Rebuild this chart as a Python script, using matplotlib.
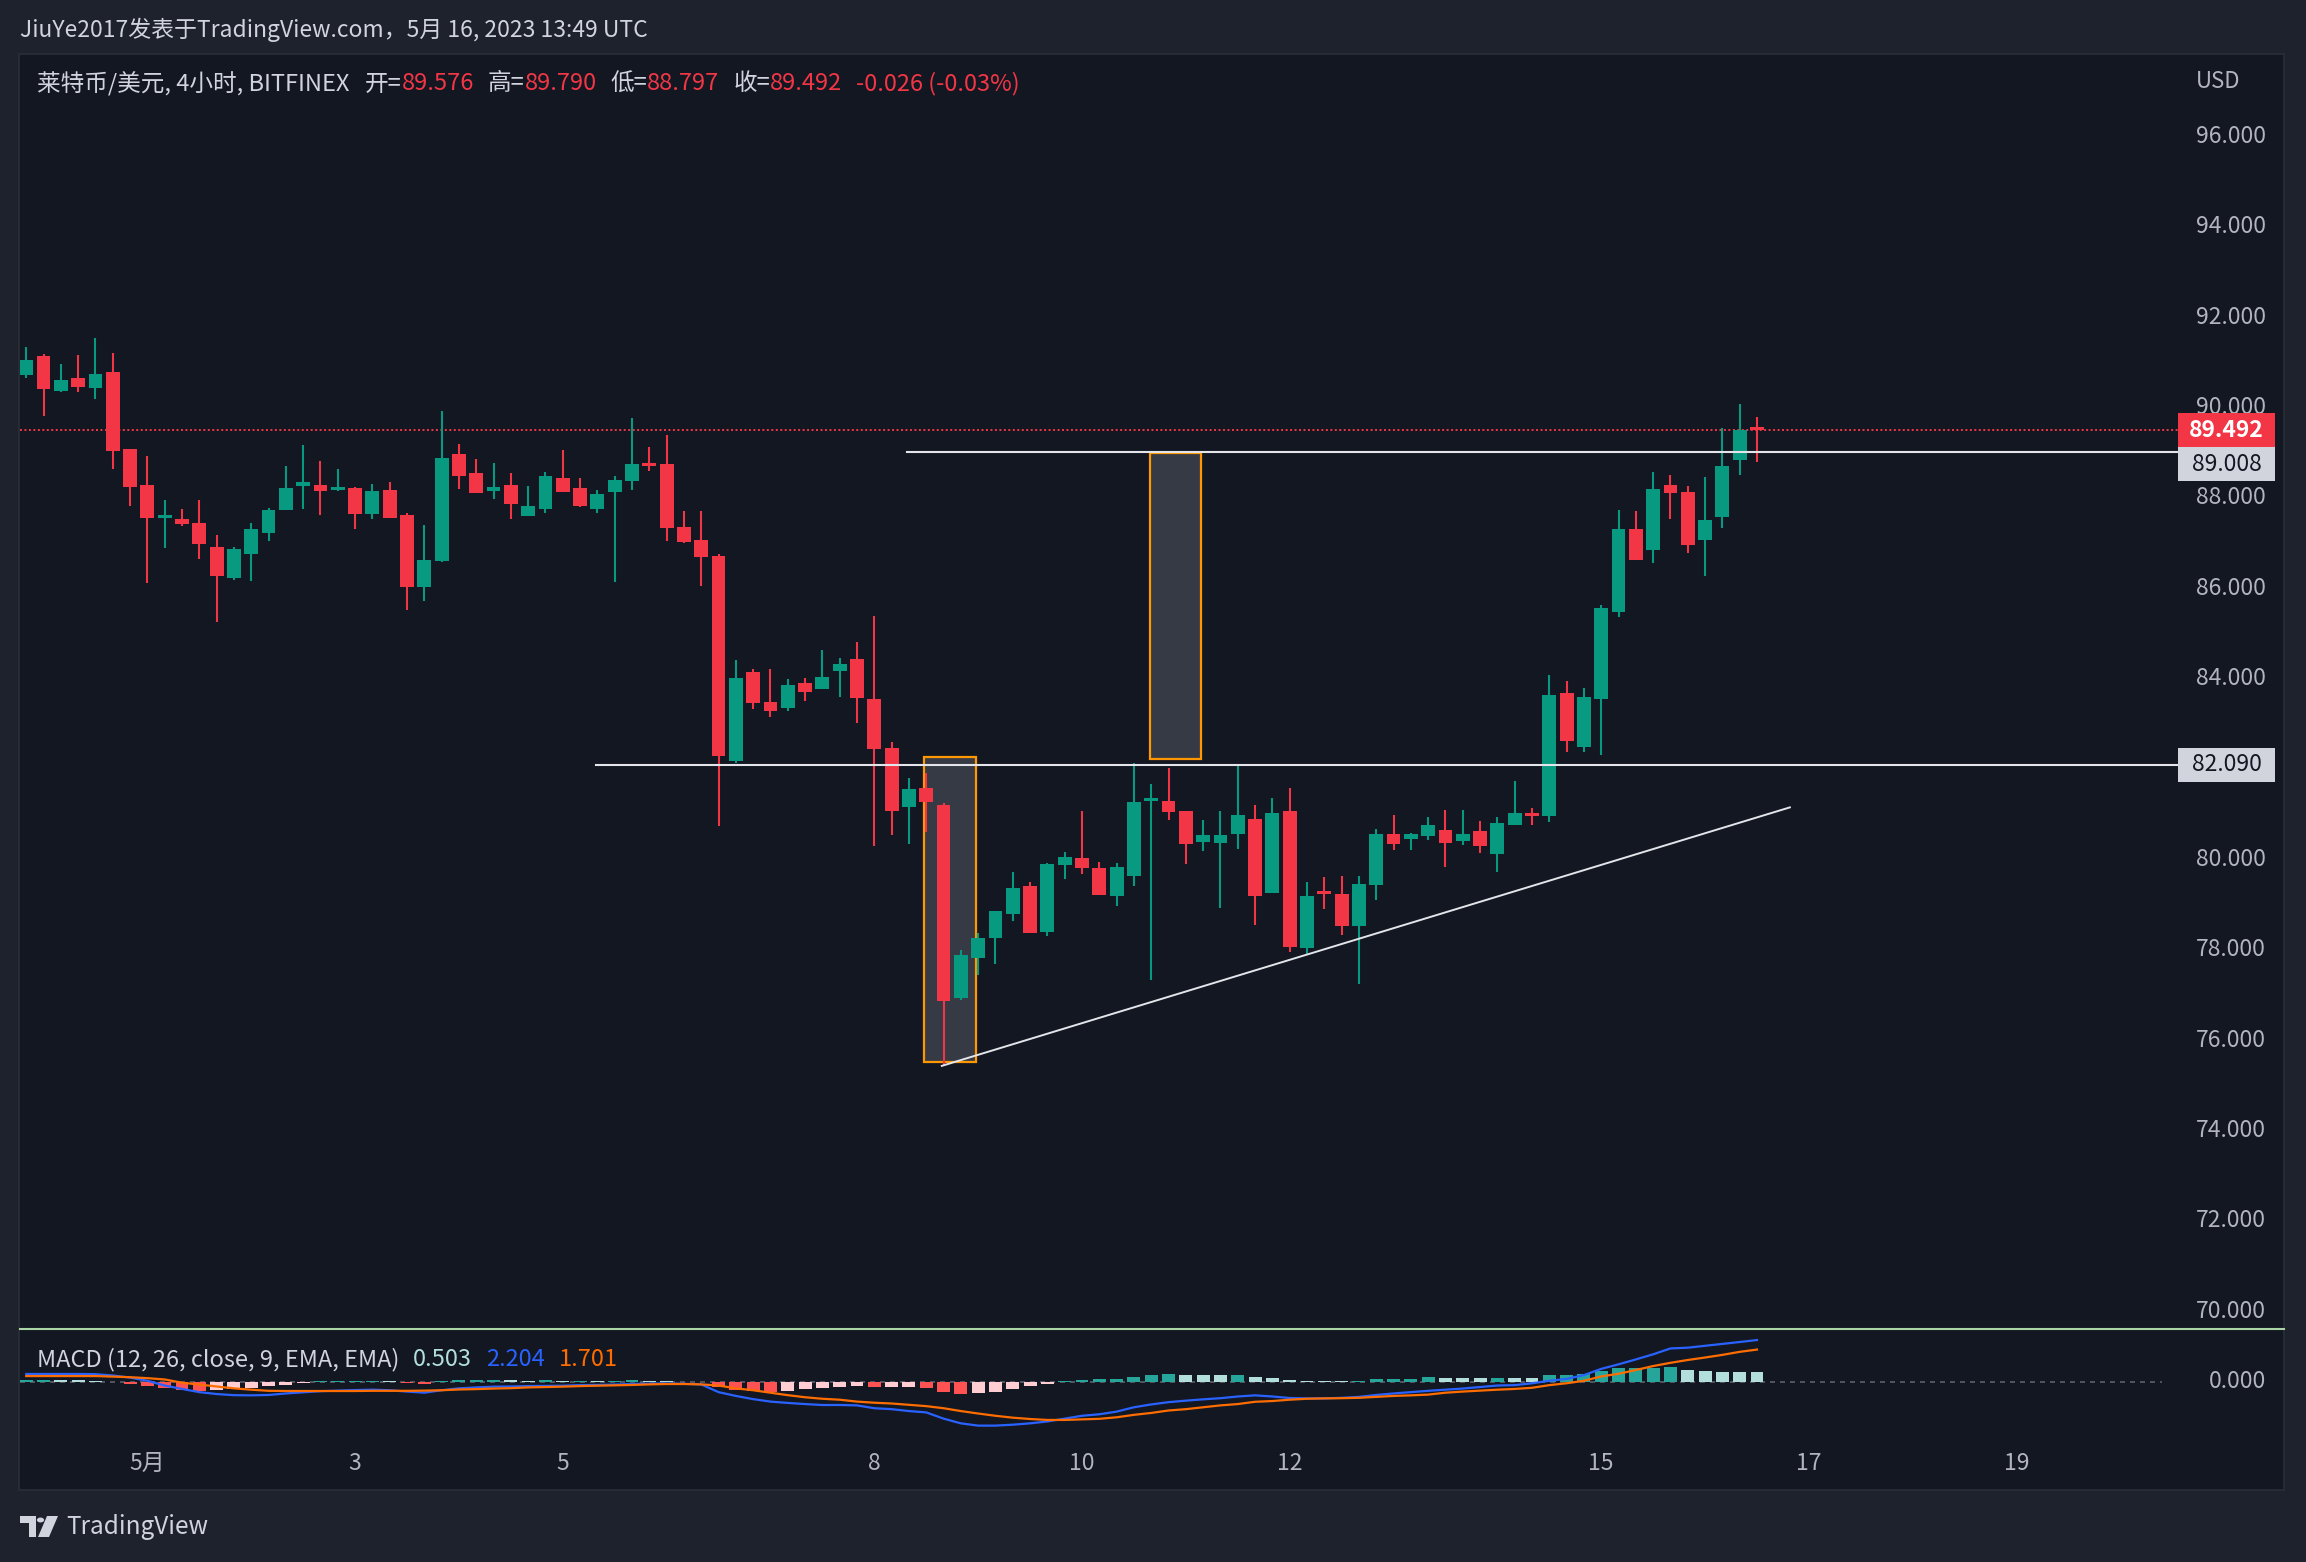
import numpy as np
import matplotlib
matplotlib.use('Agg')
import matplotlib.pyplot as plt
from matplotlib.patches import Rectangle, Polygon, Circle
from matplotlib.lines import Line2D

plt.rcParams['font.family'] = ['Noto Sans CJK SC', 'DejaVu Sans']

W, H = 2306, 1562

# LTC/USD 4h candles (Bitfinex), 2023-04-29 20:00 .. 2023-05-16 12:00
opens = [90.71, 91.13, 90.37, 90.65, 90.42, 90.79, 89.07, 88.28, 87.56, 87.54,
         87.44, 86.91, 86.23, 86.75, 87.23, 87.73, 88.26, 88.28, 88.17, 88.21,
         87.64, 88.17, 87.62, 86.03, 86.61, 88.96, 88.54, 88.15, 88.28, 87.60,
         87.76, 88.44, 88.21, 87.76, 88.12, 88.37, 88.76, 88.74, 87.35, 87.06,
         86.72, 82.18, 84.15, 83.49, 83.34, 83.91, 83.76, 84.16, 84.43, 83.55,
         82.47, 81.16, 81.57, 81.20, 76.93, 77.81, 78.25, 78.80, 79.40, 78.40,
         79.87, 80.04, 79.80, 79.19, 79.63, 81.28, 81.28, 81.07, 80.38, 80.36,
         80.56, 80.90, 79.25, 81.07, 78.04, 79.27, 79.23, 78.53, 79.43, 80.55,
         80.46, 80.52, 80.66, 80.41, 80.62, 80.11, 80.76, 81.02, 80.96, 83.68,
         82.48, 83.55, 85.48, 87.32, 86.84, 88.28, 88.12, 87.06, 87.58, 88.83,
         89.576]
highs = [91.33, 91.18, 90.95, 91.15, 91.53, 91.21, 89.08, 88.92, 87.95, 87.75,
         87.95, 87.17, 86.92, 87.45, 87.78, 88.70, 89.17, 88.81, 88.63, 88.23,
         88.31, 88.34, 87.67, 87.40, 89.92, 89.18, 88.86, 88.77, 88.54, 88.26,
         88.56, 89.05, 88.44, 88.17, 88.48, 89.76, 89.12, 89.40, 87.70, 87.70,
         86.75, 84.40, 84.21, 84.21, 83.99, 84.02, 84.63, 84.46, 84.80, 85.38,
         82.59, 81.80, 81.90, 81.25, 77.99, 78.38, 78.85, 79.71, 79.50, 79.93,
         80.16, 81.08, 79.95, 79.91, 82.13, 81.66, 82.02, 81.08, 80.86, 81.08,
         82.08, 81.21, 81.36, 81.57, 79.50, 79.61, 79.63, 79.63, 80.68, 80.99,
         80.59, 80.94, 81.09, 81.09, 80.84, 80.93, 81.73, 81.14, 84.08, 83.95,
         83.79, 85.63, 87.73, 87.70, 88.57, 88.51, 88.26, 88.45, 89.54, 90.07,
         89.790]
lows = [90.65, 89.80, 90.35, 90.35, 90.19, 88.63, 87.81, 86.12, 86.90, 87.38,
        86.64, 85.25, 86.18, 86.16, 87.04, 87.73, 87.75, 87.62, 88.15, 87.31,
        87.53, 87.56, 85.52, 85.72, 86.58, 88.19, 88.11, 87.97, 87.53, 87.60,
        87.67, 88.12, 87.80, 87.67, 86.14, 88.17, 88.59, 87.04, 87.00, 86.05,
        80.74, 82.14, 83.32, 83.16, 83.28, 83.51, 83.76, 83.60, 83.02, 80.30,
        80.54, 80.35, 80.60, 75.43, 76.89, 77.45, 77.69, 78.64, 78.38, 78.31,
        79.57, 79.67, 79.21, 78.97, 79.41, 77.34, 80.87, 79.89, 80.18, 78.93,
        80.22, 78.54, 79.25, 77.95, 77.88, 78.90, 78.32, 77.24, 79.10, 80.21,
        80.21, 80.43, 79.84, 80.32, 80.13, 79.71, 80.76, 80.77, 80.82, 82.37,
        82.37, 82.30, 85.37, 86.62, 86.56, 87.52, 86.78, 86.26, 87.34, 88.51,
        88.797]
closes = [91.04, 90.40, 90.60, 90.46, 90.73, 89.04, 88.24, 87.56, 87.60, 87.42,
          86.98, 86.27, 86.86, 87.31, 87.73, 88.21, 88.34, 88.15, 88.21, 87.64,
          88.15, 87.56, 86.03, 86.62, 88.87, 88.48, 88.11, 88.23, 87.87, 87.81,
          88.48, 88.12, 87.81, 88.08, 88.39, 88.74, 88.70, 87.34, 87.03, 86.70,
          82.28, 84.02, 83.45, 83.28, 83.86, 83.70, 84.04, 84.33, 83.57, 82.44,
          81.08, 81.55, 81.26, 76.86, 77.88, 78.25, 78.85, 79.36, 78.38, 79.89,
          80.06, 79.81, 79.21, 79.82, 81.27, 81.32, 81.04, 80.34, 80.53, 80.54,
          80.99, 79.19, 81.02, 78.05, 79.18, 79.24, 78.53, 79.45, 80.55, 80.35,
          80.55, 80.75, 80.37, 80.55, 80.29, 80.80, 81.02, 80.96, 83.64, 82.61,
          83.59, 85.56, 87.32, 86.62, 88.19, 88.11, 86.96, 87.51, 88.71, 89.51,
          89.492]

# MACD (12, 26, close, 9) read per candle
macd_line = [0.41, 0.41, 0.41, 0.41, 0.40, 0.33, 0.22, 0.05, -0.20, -0.38,
             -0.55, -0.65, -0.71, -0.72, -0.70, -0.62, -0.56, -0.50, -0.47, -0.44,
             -0.42, -0.45, -0.52, -0.58, -0.45, -0.35, -0.30, -0.26, -0.25, -0.23,
             -0.22, -0.21, -0.18, -0.17, -0.15, -0.12, -0.10, -0.09, -0.11, -0.14,
             -0.55, -0.75, -0.92, -1.05, -1.12, -1.18, -1.23, -1.23, -1.25, -1.40,
             -1.45, -1.55, -1.62, -1.95, -2.20, -2.32, -2.32, -2.27, -2.20, -2.10,
             -1.95, -1.80, -1.72, -1.58, -1.35, -1.20, -1.08, -1.00, -0.93, -0.87,
             -0.78, -0.72, -0.78, -0.86, -0.88, -0.88, -0.85, -0.80, -0.70, -0.62,
             -0.55, -0.48, -0.42, -0.36, -0.28, -0.20, -0.18, -0.08, 0.05, 0.15,
             0.35, 0.68, 0.92, 1.18, 1.45, 1.76, 1.80, 1.90, 2.00, 2.10,
             2.204]
signal_line = [0.30, 0.30, 0.30, 0.30, 0.30, 0.27, 0.24, 0.19, 0.12, -0.05,
               -0.15, -0.25, -0.35, -0.42, -0.48, -0.49, -0.49, -0.49, -0.49, -0.49,
               -0.48, -0.48, -0.48, -0.47, -0.45, -0.41, -0.39, -0.36, -0.34, -0.30,
               -0.28, -0.26, -0.23, -0.21, -0.19, -0.17, -0.14, -0.12, -0.12, -0.14,
               -0.20, -0.35, -0.45, -0.58, -0.71, -0.82, -0.90, -0.95, -1.05, -1.11,
               -1.15, -1.22, -1.29, -1.40, -1.55, -1.68, -1.80, -1.90, -1.97, -2.02,
               -2.02, -1.99, -1.96, -1.88, -1.75, -1.65, -1.52, -1.45, -1.35, -1.25,
               -1.18, -1.06, -1.02, -0.95, -0.90, -0.88, -0.87, -0.85, -0.80, -0.75,
               -0.72, -0.68, -0.58, -0.52, -0.47, -0.42, -0.38, -0.32, -0.18, -0.08,
               0.05, 0.28, 0.42, 0.62, 0.83, 1.00, 1.15, 1.28, 1.42, 1.58,
               1.701]
hist = [0.10, 0.10, 0.08, 0.07, 0.06, -0.03, -0.12, -0.22, -0.35, -0.42,
        -0.48, -0.42, -0.38, -0.32, -0.25, -0.17, -0.08, 0.03, 0.05, 0.05,
        0.06, 0.04, -0.08, -0.12, 0.03, 0.07, 0.08, 0.09, 0.07, 0.06,
        0.07, 0.05, 0.06, 0.05, 0.06, 0.07, 0.05, 0.03, 0.01, -0.02,
        -0.30, -0.42, -0.50, -0.52, -0.48, -0.40, -0.33, -0.28, -0.25, -0.30,
        -0.30, -0.28, -0.33, -0.55, -0.65, -0.62, -0.52, -0.40, -0.25, -0.10,
        0.05, 0.08, 0.12, 0.17, 0.25, 0.37, 0.40, 0.37, 0.36, 0.34,
        0.37, 0.25, 0.22, 0.08, 0.05, 0.04, 0.03, 0.05, 0.12, 0.14,
        0.17, 0.25, 0.20, 0.19, 0.18, 0.20, 0.19, 0.18, 0.35, 0.36,
        0.40, 0.56, 0.70, 0.71, 0.74, 0.79, 0.62, 0.58, 0.53, 0.52,
        0.503]

# time axis: candle index of each day label
tick_idx = [8, 20, 32, 50, 62, 74, 92, 104, 116]
tick_lbl = ['5月', '3', '5', '8', '10', '12', '15', '17', '19']
# 82.000 is hidden under the 82.090 label in the original
price_ticks = [70, 72, 74, 76, 78, 80, 84, 86, 88, 90, 92, 94, 96]

last_price = 89.492
level_hi = 89.008
level_lo = 82.090

# drawings (candle index / price)
hi_start, lo_start = 51.9, 33.9
box_a = (52.9, 55.9, 75.52, 82.27)
box_b = (65.9, 68.9, 82.21, 88.99)
trend_x = [53.9, 102.9]
trend_y = [75.43, 81.15]

UP, DN = '#089981', '#f23645'
BG, OUTER = '#131722', '#1e222d'
TXT, AXT = '#d1d4dc', '#b2b5be'
WHITE = '#e3e5ea'


def fx(px):
    return px / W


def fy(py):
    return 1 - py / H


fig = plt.figure(figsize=(W / 100, H / 100), dpi=100, facecolor=OUTER)
fig.add_artist(Rectangle((fx(19), fy(1490)), fx(2284) - fx(19), fy(54) - fy(1490),
                         transform=fig.transFigure, facecolor=BG, edgecolor='#2a2e39',
                         lw=1.2, zorder=0))

ax = fig.add_axes([fx(20), fy(1328), fx(2162) - fx(20), fy(54) - fy(1328)])
ax2 = fig.add_axes([fx(20), fy(1440), fx(2162) - fx(20), fy(1330) - fy(1440)], sharex=ax)
for a in (ax, ax2):
    a.set_facecolor('none')
    for s in a.spines.values():
        s.set_visible(False)
    a.tick_params(left=False, bottom=False, labelleft=False, labelbottom=False)

xmin, xmax = 0.64, 124.4
xlab = 125.33   # where the price-scale labels start
ax.set_xlim(xmin, xmax)
ax.set_ylim(69.63, 97.82)
ax2.set_ylim(-3.08, 2.735)

# candles
o, h, l, c = map(np.array, (opens, highs, lows, closes))
x = np.arange(1, len(c) + 1)
col = np.where(c >= o, UP, DN)
ax.vlines(x, l, h, colors=col, lw=1.5, zorder=3)
ax.bar(x, np.maximum(np.abs(c - o), 0.07), bottom=np.minimum(o, c), width=0.8,
       color=col, linewidth=0, zorder=4)

# drawings
for bx in (box_a, box_b):
    ax.add_patch(Rectangle((bx[0], bx[2]), bx[1] - bx[0], bx[3] - bx[2],
                           facecolor='#363a45', edgecolor='#ff9800', lw=1.6, zorder=2))
ax.plot([hi_start, xlab], [level_hi, level_hi], color=WHITE, lw=1.5, zorder=5, clip_on=False)
ax.plot([lo_start, xlab], [level_lo, level_lo], color=WHITE, lw=1.5, zorder=5, clip_on=False)
ax.plot(trend_x, trend_y, color=WHITE, lw=1.4, zorder=5)
ax.plot([xmin, xlab], [last_price, last_price], color=DN, lw=1.4, ls=(0, (1, 1.3)),
        zorder=2, clip_on=False)

# price scale
ty = ax.get_yaxis_transform()
for p in price_ticks:
    ax.text(1.0486, p, f'{p:.3f}', transform=ty, ha='right', va='center',
            color=AXT, fontsize=16.5, clip_on=False)
fig.text(fx(2218), fy(81), 'USD', ha='center', va='center', color=AXT, fontsize=16)

bx0, bx1 = 1.0077, 1.0527
for val, yc, fc, tc in [(last_price, last_price, DN, 'white'),
                        (level_hi, 88.74, '#d1d4dc', '#131722'),
                        (level_lo, level_lo, '#d1d4dc', '#131722')]:
    ax.add_patch(Rectangle((bx0, yc - 0.375), bx1 - bx0, 0.75, transform=ty,
                           facecolor=fc, edgecolor='none', clip_on=False, zorder=6))
    ax.text((bx0 + bx1) / 2, yc, f'{val:.3f}', transform=ty, ha='center', va='center',
            color=tc, fontsize=16.5, clip_on=False, zorder=7,
            fontweight='bold' if fc == DN else 'normal')

# MACD pane
hv = np.array(hist)
prev = np.r_[hv[0], hv[:-1]]
hcol = np.where(hv >= 0, np.where(hv >= prev, '#26a69a', '#b2dfdb'),
                np.where(hv < prev, '#ff5252', '#ffcdd2'))
ax2.bar(x, hv, width=0.75, color=hcol, linewidth=0, zorder=2)
ax2.axhline(0, color='#5d606b', lw=1.2, ls=(0, (3, 3)), zorder=1)
ax2.plot(x, macd_line, color='#2962ff', lw=1.6, zorder=3)
ax2.plot(x, signal_line, color='#ff6d00', lw=1.6, zorder=3)
ax2.text(1.0486, 0, '0.000', transform=ax2.get_yaxis_transform(), ha='right',
         va='center', color=AXT, fontsize=16.5, clip_on=False)

fig.add_artist(Line2D([fx(20), fx(2284)], [fy(1329), fy(1329)], color='#a9d4a4', lw=1.5))

# time axis
tx = ax2.get_xaxis_transform()
for k, lbl in zip(tick_idx, tick_lbl):
    ax2.text(k, -0.21, lbl, transform=tx, ha='center', va='center', color=AXT,
             fontsize=16.5, clip_on=False)


def seq(parts, x0, y0, size):
    prev = fig.text(fx(x0), fy(y0), parts[0][0], color=parts[0][1], fontsize=size,
                    ha='left', va='center')
    for s, cc, gap in parts[1:]:
        prev = ax.annotate(s, xy=(1, 0.5), xycoords=prev, xytext=(gap, 0),
                           textcoords='offset points', ha='left', va='center',
                           color=cc, fontsize=size, annotation_clip=False)


seq([('JiuYe2017发表于TradingView.com，5月 16, 2023 13:49 UTC', TXT)], 20, 30, 16.5)
seq([('莱特币/美元, 4小时, BITFINEX', TXT),
     ('开=', TXT, 11), ('89.576', DN, 0), ('高=', TXT, 10), ('89.790', DN, 0),
     ('低=', TXT, 10), ('88.797', DN, 0), ('收=', TXT, 10), ('89.492', DN, 0),
     ('-0.026 (-0.03%)', DN, 10)], 37, 84, 17)
seq([('MACD (12, 26, close, 9, EMA, EMA)', TXT),
     ('0.503', '#b2dfdb', 10), ('2.204', '#2962ff', 10), ('1.701', '#ff6d00', 10)],
    37, 1360, 17)

# footer logo
fig.add_artist(Polygon([(fx(20), fy(1516)), (fx(36), fy(1516)), (fx(36), fy(1537)),
                        (fx(29), fy(1537)), (fx(29), fy(1523)), (fx(20), fy(1523))],
                       closed=True, transform=fig.transFigure, facecolor=TXT, edgecolor='none'))
fig.add_artist(Circle((fx(40.5), fy(1520)), 3.6 / W, transform=fig.transFigure,
                      facecolor=TXT, edgecolor='none'))
fig.add_artist(Polygon([(fx(47), fy(1516)), (fx(58), fy(1516)), (fx(49), fy(1537)),
                        (fx(38), fy(1537))], closed=True, transform=fig.transFigure,
                       facecolor=TXT, edgecolor='none'))
fig.text(fx(66), fy(1527), 'TradingView', color=TXT, fontsize=17.5, ha='left', va='center')

fig.savefig('out.png', dpi=100, facecolor=OUTER)
